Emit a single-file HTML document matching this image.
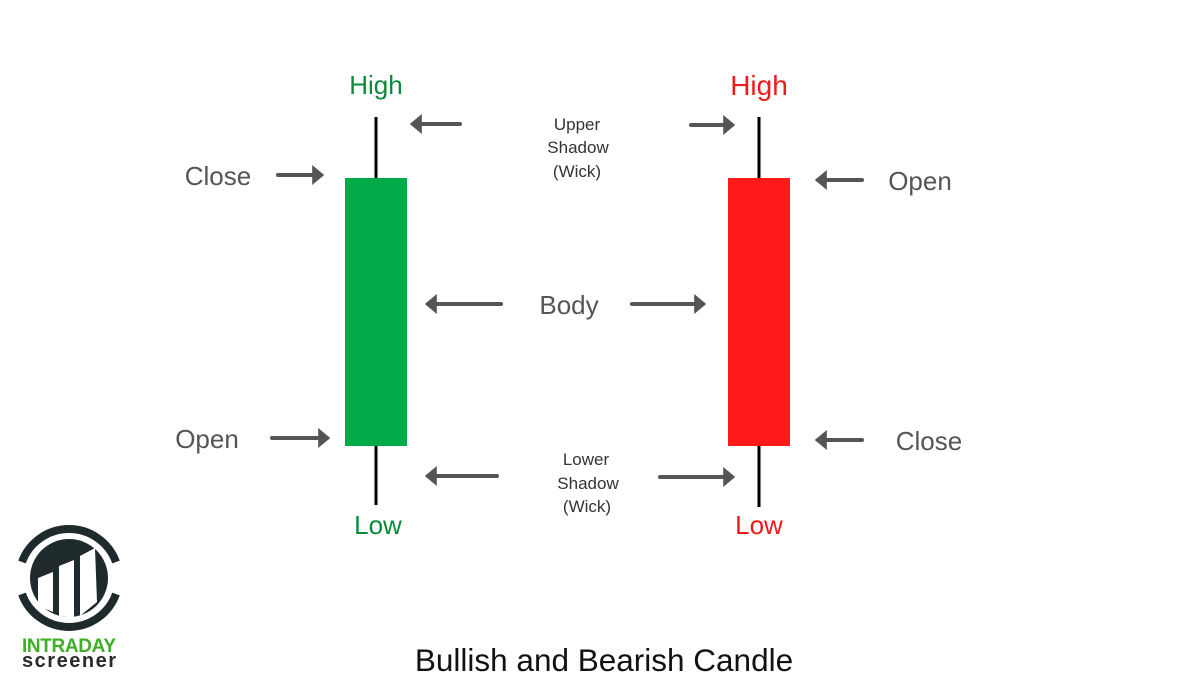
<!DOCTYPE html>
<html><head><meta charset="utf-8"><style>
html,body{margin:0;padding:0;background:#fff;}
svg{display:block;}
text{font-family:"Liberation Sans",sans-serif;}
</style></head><body>
<svg width="1200" height="680" viewBox="0 0 1200 680" xmlns="http://www.w3.org/2000/svg">
<defs>
<marker id="ah" markerWidth="4" markerHeight="5" refX="2.2" refY="2.5" orient="auto" markerUnits="strokeWidth">
<path d="M0,0 L3,2.5 L0,5 Z" fill="#555"/>
</marker>
</defs>
<rect width="1200" height="680" fill="#fff"/>
<line x1="376" y1="117" x2="376" y2="505" stroke="#000" stroke-width="3"/>
<rect x="345" y="178" width="62" height="268" fill="#00ab48"/>
<line x1="759" y1="117" x2="759" y2="507" stroke="#000" stroke-width="3"/>
<rect x="728" y="178" width="62" height="268" fill="#ff1a1a"/>
<g stroke="#555" stroke-width="4" stroke-linecap="round" marker-end="url(#ah)">
<line x1="278" y1="175" x2="321" y2="175"/>
<line x1="460" y1="124" x2="413" y2="124"/>
<line x1="691" y1="125" x2="732" y2="125"/>
<line x1="862" y1="180" x2="818" y2="180"/>
<line x1="501" y1="304" x2="428" y2="304"/>
<line x1="632" y1="304" x2="703" y2="304"/>
<line x1="272" y1="438" x2="327" y2="438"/>
<line x1="862" y1="440" x2="818" y2="440"/>
<line x1="497" y1="476" x2="428" y2="476"/>
<line x1="660" y1="477" x2="732" y2="477"/>
</g>
<text x="376" y="94" font-size="26" fill="#0a8a3a" text-anchor="middle">High</text>
<text x="759" y="95" font-size="28" fill="#f01a1a" text-anchor="middle">High</text>
<text x="378" y="534" font-size="26" fill="#0a8a3a" text-anchor="middle">Low</text>
<text x="759" y="534" font-size="26" fill="#f01a1a" text-anchor="middle">Low</text>
<g fill="#555" font-size="26" text-anchor="middle">
<text x="218" y="185">Close</text>
<text x="920" y="190">Open</text>
<text x="569" y="314">Body</text>
<text x="207" y="448">Open</text>
<text x="929" y="450">Close</text>
</g>
<g fill="#333" font-size="17" text-anchor="middle">
<text x="577" y="130">Upper</text>
<text x="578" y="153">Shadow</text>
<text x="577" y="177">(Wick)</text>
<text x="586" y="465">Lower</text>
<text x="588" y="489">Shadow</text>
<text x="587" y="512">(Wick)</text>
</g>
<text x="604" y="671" font-size="31.5" fill="#111" text-anchor="middle">Bullish and Bearish Candle</text>
<g>
<path d="M 22 562 A 50 50 0 0 1 116 562" fill="none" stroke="#1e2a2c" stroke-width="8"/>
<path d="M 22 594 A 50 50 0 0 0 116 594" fill="none" stroke="#1e2a2c" stroke-width="8"/>
<circle cx="69" cy="578" r="39" fill="#1e2a2c"/>
<path d="M38 578 L53 572 L53 612 L38 606 Z" fill="#fff"/>
<path d="M59 566 L74 560 L74 618 L59 616 Z" fill="#fff"/>
<path d="M80 556 L95 548 L97 602 L80 616 Z" fill="#fff"/>
<text x="22" y="652" font-size="19" font-weight="bold" fill="#3cb023" textLength="94">INTRADAY</text>
<text x="22" y="667" font-size="20" font-weight="bold" fill="#2b2b2b" textLength="94">screener</text>
</g>
</svg>
</body></html>
